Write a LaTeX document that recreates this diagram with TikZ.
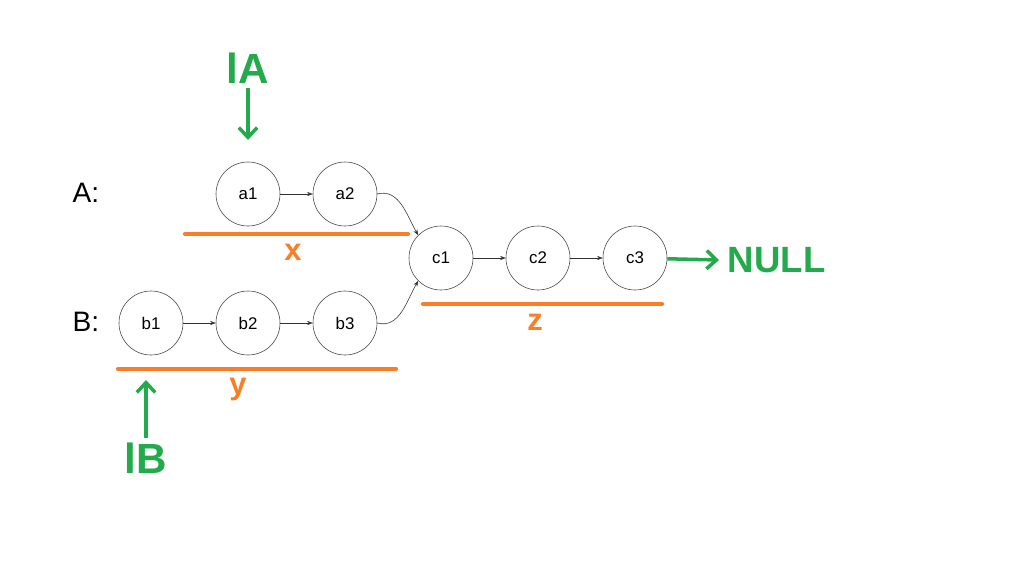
\documentclass[tikz,border=0pt]{standalone}
\usepackage{fontspec}
\setmainfont{Liberation Sans}
\usetikzlibrary{arrows.meta}
\definecolor{grn}{RGB}{34,170,76}
\definecolor{org}{RGB}{250,125,40}
\begin{document}
\begin{tikzpicture}[x=0.025cm,y=-0.025cm,
  nd/.style={circle,draw=black!75,thin,minimum size=1.6cm,inner sep=0pt,font=\fontsize{12}{14}\selectfont},
  lnk/.style={-{Stealth[length=4pt]},black!80,thin},
  bar/.style={org,line width=3pt,line cap=round},
  blab/.style={text=org,font=\fontsize{22}{24}\selectfont\bfseries},
  glab/.style={text=grn,font=\fontsize{30}{32}\selectfont\bfseries},
  garr/.style={grn,line width=2.5pt,-{Straight Barb[length=7pt,width=13pt]}}]
\useasboundingbox (0,0) rectangle (1010,579);
\node[nd] (a1) at (248,194) {a1};
\node[nd] (a2) at (345,194) {a2};
\node[nd] (b1) at (151,323) {b1};
\node[nd] (b2) at (248,323) {b2};
\node[nd] (b3) at (345,323) {b3};
\node[nd] (c1) at (441,258) {c1};
\node[nd] (c2) at (538,258) {c2};
\node[nd] (c3) at (635,258) {c3};
\draw[lnk] (a1) -- (a2);
\draw[lnk] (b1) -- (b2);
\draw[lnk] (b2) -- (b3);
\draw[lnk] (c1) -- (c2);
\draw[lnk] (c2) -- (c3);
\draw[lnk] (a2.east) to[out=15,in=120] (c1.north west);
\draw[lnk] (b3.east) to[out=-15,in=-120] (c1.south west);
\node[font=\fontsize{20}{22}\selectfont] (la) at (86,193) {A:};
\node[font=\fontsize{20}{22}\selectfont] (lb) at (86,322) {B:};
% underlines
\coordinate (x0) at (185,234); \coordinate (x1) at (408,234);
\coordinate (y0) at (118,369); \coordinate (y1) at (396,369);
\coordinate (z0) at (423,304); \coordinate (z1) at (662,304);
\draw[bar] (x0) -- (x1);
\draw[bar] (y0) -- (y1);
\draw[bar] (z0) -- (z1);
\node[blab] (lx) at (293,252) {x};
\node[blab] (ly) at (238,390) {y};
\node[blab] (lz) at (535,322) {z};
% pointers
\node[glab] (lA) at (248,68) {lA};
\coordinate (aend) at (248,140);
\draw[garr] (lA) -- (aend);
\node[glab] (lB) at (146,458) {lB};
\coordinate (bend) at (146,380);
\draw[garr] (lB) -- (bend);
\node[glab,font=\fontsize{26}{28}\selectfont\bfseries,anchor=west] (null) at (723,260) {NULL};
\coordinate (nend) at (719,260);
\draw[garr] (c3) -- (nend);
\end{tikzpicture}
\end{document}
